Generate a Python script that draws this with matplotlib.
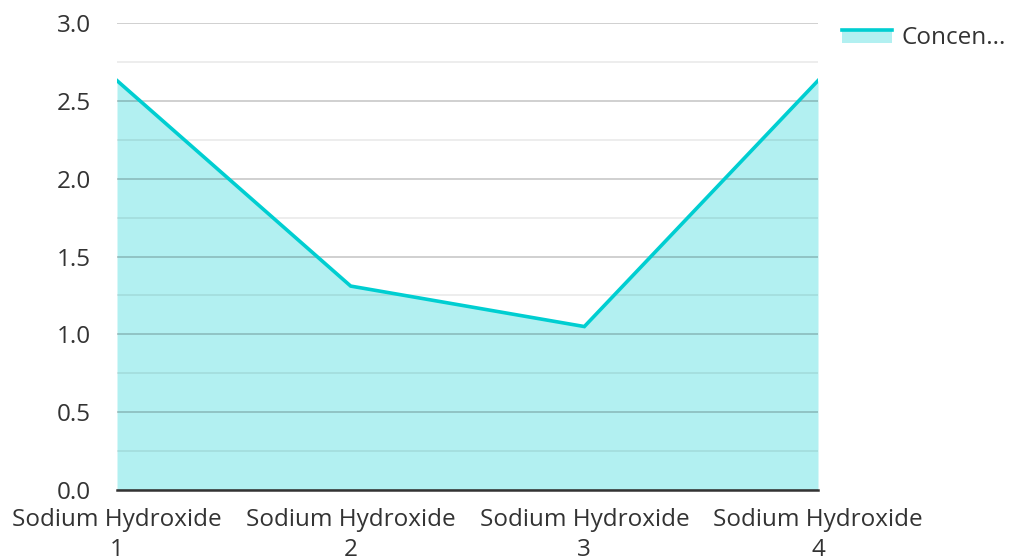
import matplotlib
matplotlib.use("Agg")
import matplotlib.pyplot as plt
from matplotlib.patches import Rectangle
from matplotlib.lines import Line2D
from matplotlib.legend_handler import HandlerBase
from matplotlib.ticker import MultipleLocator

plt.rcParams['font.family'] = ['Open Sans', 'DejaVu Sans']

categories = ["Sodium Hydroxide\n1", "Sodium Hydroxide\n2", "Sodium Hydroxide\n3", "Sodium Hydroxide\n4"]
concentration = [2.63, 1.31, 1.05, 2.63]
series_name = "Concen..."

line_color = "#00CED1"
fill_color = "#B2F0F1"
FS = 17.5

fig = plt.figure(figsize=(10.1, 5.6), dpi=100)
ax = fig.add_axes([117/1010, 1-490/560, (818-117)/1010, (490-23)/560])

x = list(range(len(categories)))
ax.fill_between(x, concentration, 0, color=fill_color, linewidth=0, zorder=1)
ax.plot(x, concentration, color=line_color, linewidth=2.6, zorder=3, solid_joinstyle='miter')

ax.set_xlim(0, len(categories) - 1)
ax.set_ylim(0, 3.0)
ax.yaxis.set_minor_locator(MultipleLocator(0.25))
ax.set_yticks([0, 0.5, 1.0, 1.5, 2.0, 2.5, 3.0])
ax.set_yticklabels(["0.0", "0.5", "1.0", "1.5", "2.0", "2.5", "3.0"])
ax.set_xticks(x)
ax.set_xticklabels(categories, linespacing=1.35)

ax.grid(True, which='major', axis='y', color='#000000', alpha=0.2, linewidth=1.3, zorder=2)
ax.grid(True, which='minor', axis='y', color='#000000', alpha=0.08, linewidth=1.3, zorder=2)
ax.grid(False, axis='x')
for s in ['top', 'right', 'left']:
    ax.spines[s].set_visible(False)
ax.spines['bottom'].set_color('#333333')
ax.spines['bottom'].set_linewidth(1.8)
ax.spines['bottom'].set_zorder(4)
ax.tick_params(axis='both', which='both', length=0, labelsize=FS, colors='#333333')
ax.tick_params(axis='y', pad=19)
ax.tick_params(axis='x', pad=13)


class AreaHandler(HandlerBase):
    def create_artists(self, legend, orig_handle, xdescent, ydescent, width, height, fontsize, trans):
        r = Rectangle((-xdescent, -ydescent), width, height * 0.9, facecolor=fill_color,
                      edgecolor='none', transform=trans)
        l = Line2D([-xdescent, -xdescent + width], [-ydescent + height * 0.9] * 2,
                   color=line_color, linewidth=2.6, transform=trans)
        return [r, l]


handle = Rectangle((0, 0), 1, 1)
leg = fig.legend([handle], [series_name], handler_map={Rectangle: AreaHandler()},
                 loc='upper left', bbox_to_anchor=(840/1010, 1-24/560), frameon=False,
                 fontsize=FS, handlelength=2.05, handleheight=0.55, handletextpad=0.4,
                 borderaxespad=0, borderpad=0.1)
for t in leg.get_texts():
    t.set_color('#333333')

fig.savefig("out.png", dpi=100)
